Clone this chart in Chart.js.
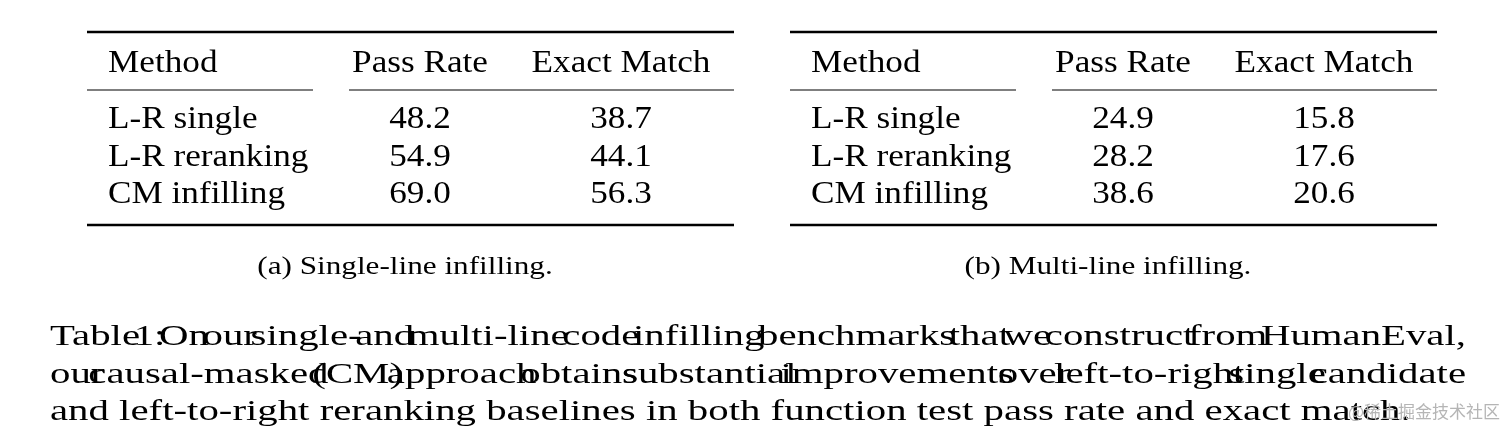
<!DOCTYPE html>
<html>
<head>
<meta charset="utf-8">
<script src="https://cdn.jsdelivr.net/npm/chart.js@4"></script>
<style>
  html, body { margin: 0; padding: 0; background: #fff; }
  #wrap { width: 1512px; height: 439px; }
</style>
</head>
<body>
<div id="wrap"><canvas id="myChart"></canvas></div>
<script>
// table data
const headers = ['Method', 'Pass Rate', 'Exact Match'];
const methods = ['L-R single', 'L-R reranking', 'CM infilling'];
const singlePass = [48.2, 54.9, 69.0];
const singleExact = [38.7, 44.1, 56.3];
const multiPass = [24.9, 28.2, 38.6];
const multiExact = [15.8, 17.6, 20.6];
const captions = ['(a) Single-line infilling.', '(b) Multi-line infilling.'];
const paragraph = [
    'Table 1: On our single- and multi-line code infilling benchmarks that we construct from HumanEval,',
    'our causal-masked (CM) approach obtains substantial improvements over left-to-right single candidate',
    'and left-to-right reranking baselines in both function test pass rate and exact match.'
];
const watermark = '@稀土掘金技术社区';

const serif = '"Liberation Serif", "DejaVu Serif", serif';

// text with a horizontal stretch (reference face is wider than Liberation Serif)
function textS(ctx, text, x, y, s, align) {
    ctx.save();
    ctx.translate(x, y);
    ctx.scale(s, 1);
    ctx.textAlign = align;
    ctx.fillText(text, 0, 0);
    ctx.restore();
}

// draws one table with its left edge at x0 (in scale units)
function drawTable(ctx, sx, sy, x0, pass, exact, caption) {
    const X = v => sx.getPixelForValue(v);
    const Y = v => sy.getPixelForValue(v);
    ctx.strokeStyle = '#000';
    function rule(a, b, y, w) {
        ctx.lineWidth = w;
        ctx.beginPath();
        ctx.moveTo(X(x0 + a), Y(y));
        ctx.lineTo(X(x0 + b), Y(y));
        ctx.stroke();
    }
    rule(0, 647, 32, 2.5);
    rule(0, 226, 90, 1.2);
    rule(262, 647, 90, 1.2);
    rule(0, 647, 225, 2.5);

    ctx.fillStyle = '#000';
    ctx.font = '32px ' + serif;
    ctx.textBaseline = 'alphabetic';
    const s = 1.1;
    textS(ctx, headers[0], X(x0 + 21), Y(72), s, 'left');
    textS(ctx, headers[1], X(x0 + 333), Y(72), s, 'center');
    textS(ctx, headers[2], X(x0 + 534), Y(72), s, 'center');
    const rowsY = [128, 166, 203];
    methods.forEach((m, i) => {
        textS(ctx, m, X(x0 + 21), Y(rowsY[i]), s, 'left');
        textS(ctx, pass[i].toFixed(1), X(x0 + 333), Y(rowsY[i]), s, 'center');
        textS(ctx, exact[i].toFixed(1), X(x0 + 534), Y(rowsY[i]), s, 'center');
    });
    ctx.font = '26px ' + serif;
    textS(ctx, caption, X(x0 + 318), Y(274), 1.2, 'center');
}

function drawJustified(ctx, text, x, y, width, s, justify) {
    if (!justify) { textS(ctx, text, x, y, s, 'left'); return; }
    const words = text.split(' ');
    const wordsW = words.reduce((t, w) => t + ctx.measureText(w).width * s, 0);
    const gap = (width - wordsW) / (words.length - 1);
    let cx = x;
    words.forEach(w => { textS(ctx, w, cx, y, s, 'left'); cx += ctx.measureText(w).width * s + gap; });
}

const tablePlugin = {
    id: 'tablePlugin',
    afterDraw(chart) {
        const ctx = chart.ctx;
        const sx = chart.scales.x, sy = chart.scales.y;
        ctx.save();
        drawTable(ctx, sx, sy, 87, singlePass, singleExact, captions[0]);
        drawTable(ctx, sx, sy, 790, multiPass, multiExact, captions[1]);

        ctx.fillStyle = '#000';
        ctx.font = '30px ' + serif;
        ctx.textBaseline = 'alphabetic';
        const lineY = [345, 383, 420];
        paragraph.forEach((line, i) => {
            const x = sx.getPixelForValue(50);
            const w = sx.getPixelForValue(1466) - x;
            drawJustified(ctx, line, x, sy.getPixelForValue(lineY[i]), w, 1.36, i < paragraph.length - 1);
        });

        ctx.fillStyle = '#b5b5b5';
        ctx.font = '17px "Noto Sans CJK SC", sans-serif';
        ctx.textAlign = 'right';
        ctx.fillText(watermark, sx.getPixelForValue(1500), sy.getPixelForValue(418));
        ctx.restore();
    }
};

const ctx = document.getElementById('myChart');
new Chart(ctx, {
    type: 'scatter',
    data: { datasets: [{ data: [] }] },
    options: {
        responsive: true,
        maintainAspectRatio: false,
        animation: false,
        layout: { padding: 0 },
        plugins: { legend: { display: false }, tooltip: { enabled: false } },
        scales: {
            x: { type: 'linear', min: 0, max: 1512, display: false },
            y: { type: 'linear', min: 0, max: 439, reverse: true, display: false }
        }
    },
    plugins: [tablePlugin]
});
</script>
</body>
</html>
